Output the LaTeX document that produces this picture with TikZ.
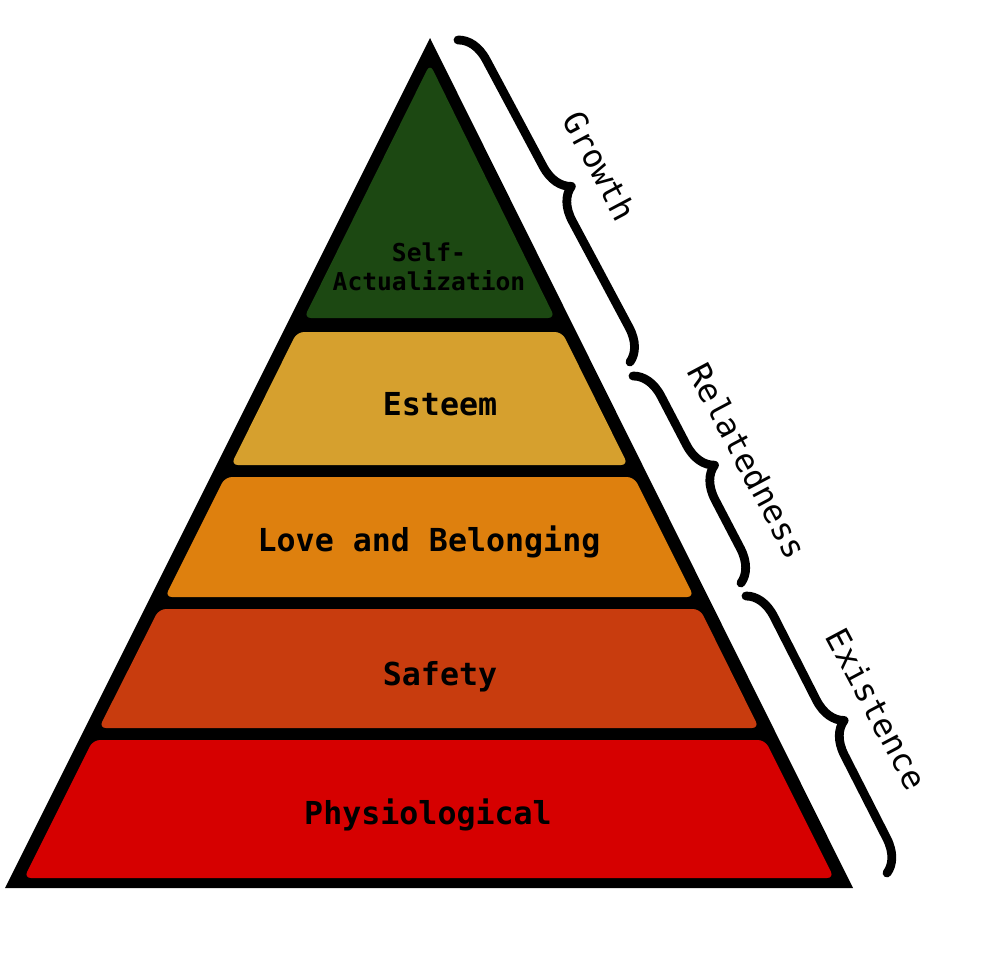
\documentclass[tikz,border=0pt]{standalone}
\usepackage{fontspec}
\setmonofont{DejaVu Sans Mono}
\usepackage{tikz}
\usetikzlibrary{decorations.pathreplacing, calc}
\definecolor{clrGrowth}{RGB}{28,72,18}
\definecolor{clrEsteem}{RGB}{214,160,46}
\definecolor{clrLove}{RGB}{222,128,14}
\definecolor{clrSafety}{RGB}{200,60,14}
\definecolor{clrPhysio}{RGB}{214,0,0}

\begin{document}
\begin{tikzpicture}[
  x=0.02cm, y=-0.02cm,
  layer/.style={rounded corners=4pt, draw=none},
  lbl/.style={font=\ttfamily\bfseries\fontsize{18}{21}\selectfont,
              text=black, align=center},
  grouplbl/.style={font=\ttfamily\fontsize{18.5}{22}\selectfont,
                   rotate=-62},
  grp/.style={decorate, decoration={brace, amplitude=0.62cm},
              line width=5pt, line cap=round, line join=round}
]
\useasboundingbox (0,0) rectangle (1000,961);

% outer black triangle
\coordinate (apex) at (430,38);
\coordinate (bl)   at (5,888);
\coordinate (br)   at (853,888);
\fill[black] (apex) -- (br) -- (bl) -- cycle;

% layers, top to bottom
\fill[layer, fill=clrGrowth] (430,64) -- (555,318) -- (304,318) -- cycle;
\fill[layer, fill=clrEsteem] (297,332) -- (562,332) -- (628,465) -- (231,465) -- cycle;
\fill[layer, fill=clrLove]   (225,477) -- (634,477) -- (694,597) -- (165,597) -- cycle;
\fill[layer, fill=clrSafety] (159,609) -- (700,609) -- (759,728) -- (99,728) -- cycle;
\fill[layer, fill=clrPhysio] (93,740) -- (765,740) -- (834,878) -- (24,878) -- cycle;

\node[lbl, font=\ttfamily\bfseries\fontsize{14}{16.5}\selectfont]
      (selfact) at (429,267) {Self-\\Actualization};
\node[lbl] (esteem) at (440,404) {Esteem};
\node[lbl] (love)   at (429,542) {Love and Belonging};
\node[lbl] (safety) at (440,677) {Safety};
\node[lbl] (physio) at (428,815) {Physiological};

% ERG groups on the right side
\coordinate (growthA)   at (458,40);
\coordinate (growthB)   at (630,362);
\coordinate (relateA)   at (633,376);
\coordinate (relateB)   at (741,583);
\coordinate (existA)    at (746,596);
\coordinate (existB)    at (887,873);

\draw[grp] (growthA) -- (growthB);
\draw[grp] (relateA) -- (relateB);
\draw[grp] (existA)  -- (existB);

\node[grouplbl] (growth)  at (600,166) {Growth};
\node[grouplbl] (related) at (748,461) {Relatedness};
\node[grouplbl] (exist)   at (877,709) {Existence};

\end{tikzpicture}
\end{document}
